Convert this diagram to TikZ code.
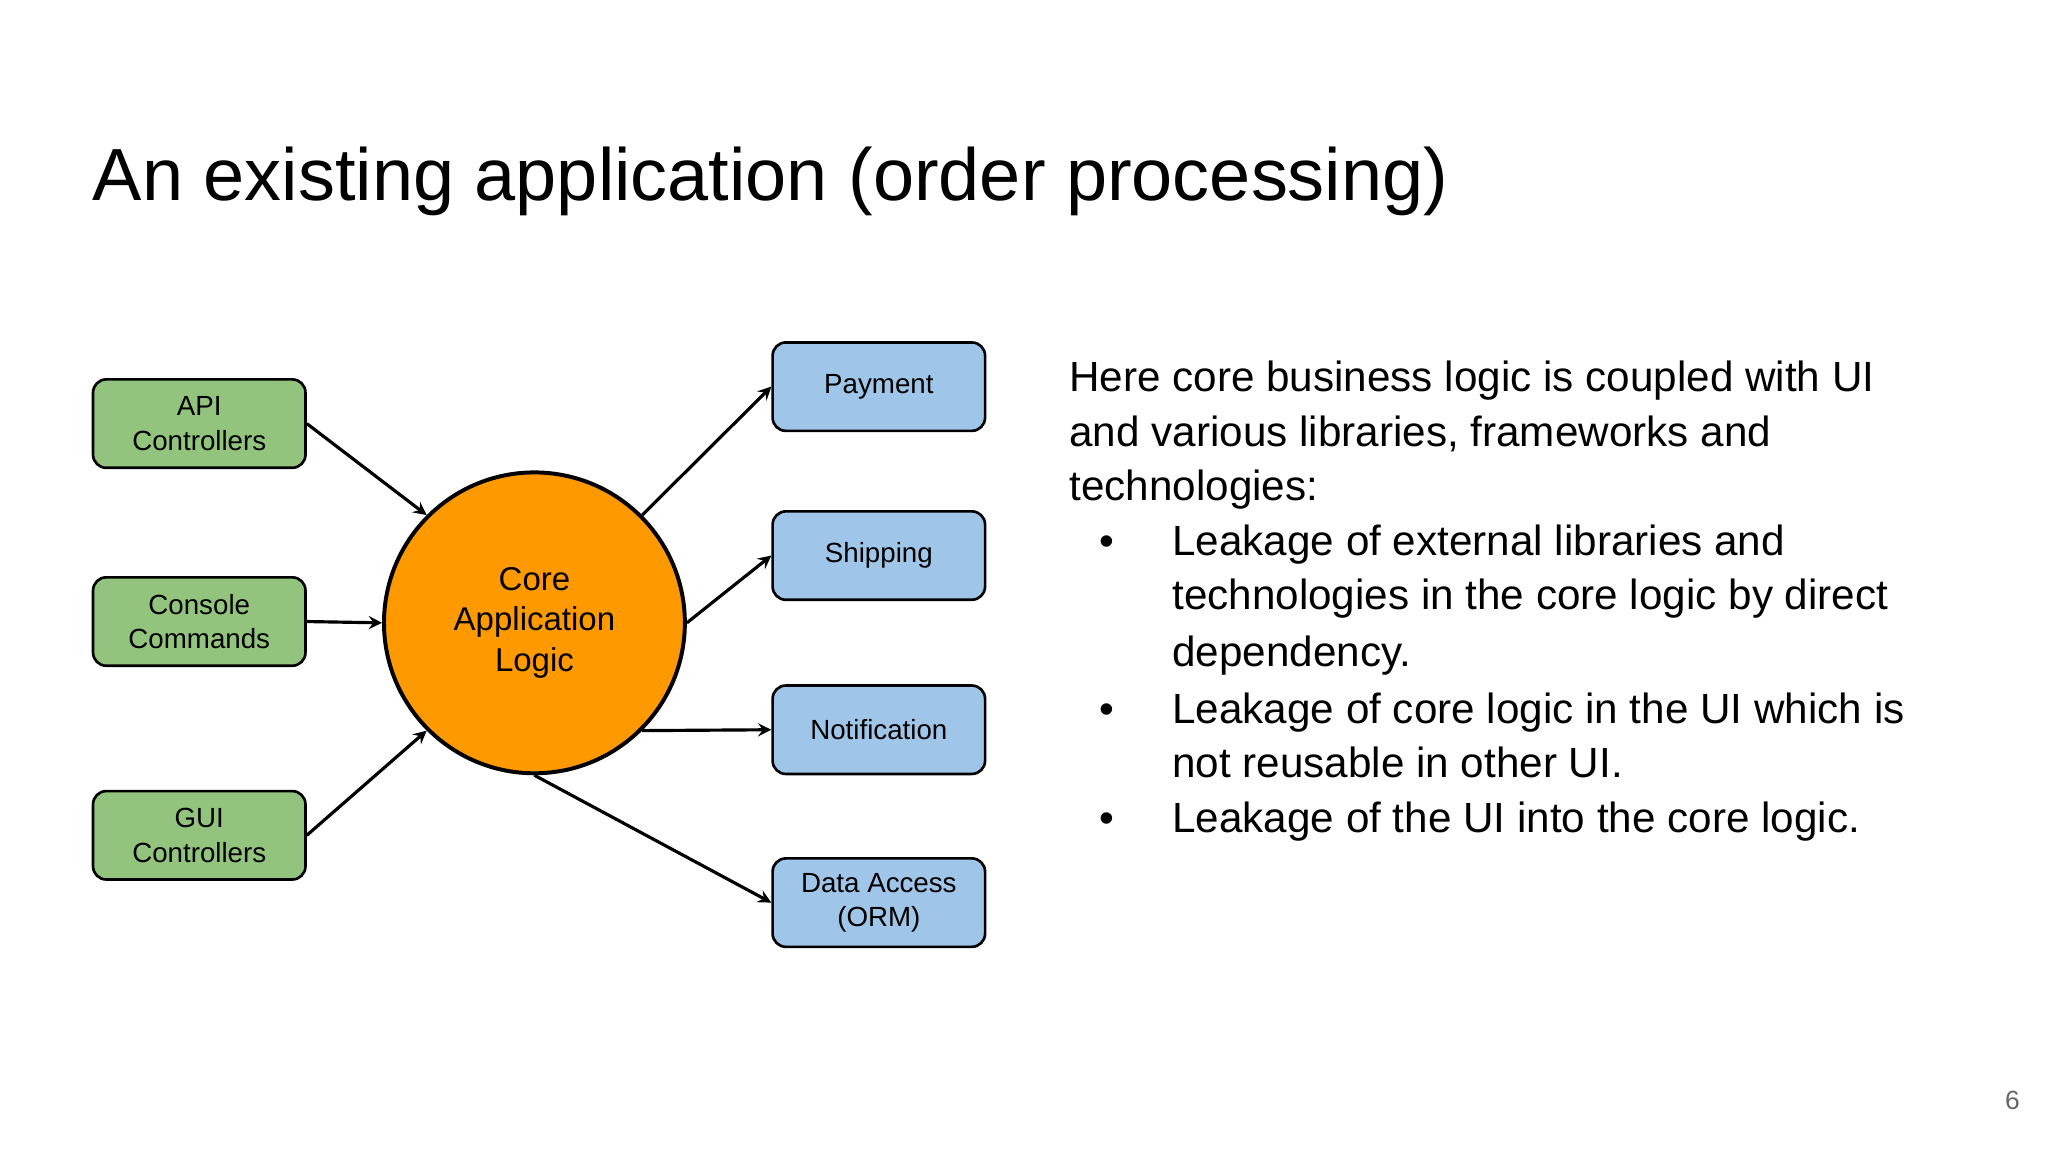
\documentclass[tikz,border=0pt]{standalone}
\usepackage{fontspec}
\setmainfont{Liberation Sans}
\begin{document}
\begin{tikzpicture}[x=0.5pt,y=-0.5pt,
  box/.style={draw=black,line width=1pt,rounded corners=5pt,minimum width=80.5pt,minimum height=33.5pt,align=center,font=\fontsize{10.5}{13}\selectfont,inner sep=0pt},
  g/.style={box,fill=green!35!olive!30!white,fill={rgb,255:red,147;green,196;blue,125}},
  b/.style={box,fill={rgb,255:red,159;green,197;blue,232}},
  arr/.style={-stealth,line width=1.2pt},
  body/.style={anchor=base west,font=\fontsize{16}{20}\selectfont,inner sep=0pt}]
\useasboundingbox (0,0) rectangle (1552,873);
\node[anchor=base west,font=\fontsize{28}{34}\selectfont,inner sep=0pt] (title) at (70,152) {An existing application (order processing)};
\node[g] (api) at (151,321) {API\\Controllers};
\node[g] (con) at (151,471) {Console\\Commands};
\node[g] (gui) at (151,633) {GUI\\Controllers};
\node[circle,draw=black,line width=1.5pt,fill={rgb,255:red,255;green,153;blue,0},minimum size=114pt,align=center,font=\fontsize{12.5}{15.5}\selectfont,inner sep=0pt] (core) at (405,472) {Core\\Application\\Logic};
\node[b] (pay) at (666,293) {Payment};
\node[b] (ship) at (666,421) {Shipping};
\node[b] (not) at (666,553) {Notification};
\node[b] (data) at (666,684) {Data Access\\(ORM)};
\draw[arr] (api.east) -- (core.135);
\draw[arr] (con.east) -- (core.west);
\draw[arr] (gui.east) -- (core.225);
\draw[arr] (core.45) -- (pay.west);
\draw[arr] (core.east) -- (ship.west);
\draw[arr] (core.-45) -- (not.west);
\draw[arr] (core.south) -- (data.west);
\node[body] (l1) at (810,297) {Here core business logic is coupled with UI};
\node[body] (l2) at (810,338) {and various libraries, frameworks and};
\node[body] (l3) at (810,379) {technologies:};
\node[body] (b1) at (833,421) {\textbullet};
\node[body] (t1) at (888,421) {Leakage of external libraries and};
\node[body] (t1b) at (888,462) {technologies in the core logic by direct};
\node[body] (t1c) at (888,505) {dependency.};
\node[body] (b2) at (833,548) {\textbullet};
\node[body] (t2) at (888,548) {Leakage of core logic in the UI which is};
\node[body] (t2b) at (888,589) {not reusable in other UI.};
\node[body] (b3) at (833,631) {\textbullet};
\node[body] (t3) at (888,631) {Leakage of the UI into the core logic.};
\node[font=\fontsize{10}{12}\selectfont,text=black!60] (pg) at (1525,834) {6};
\end{tikzpicture}
\end{document}
